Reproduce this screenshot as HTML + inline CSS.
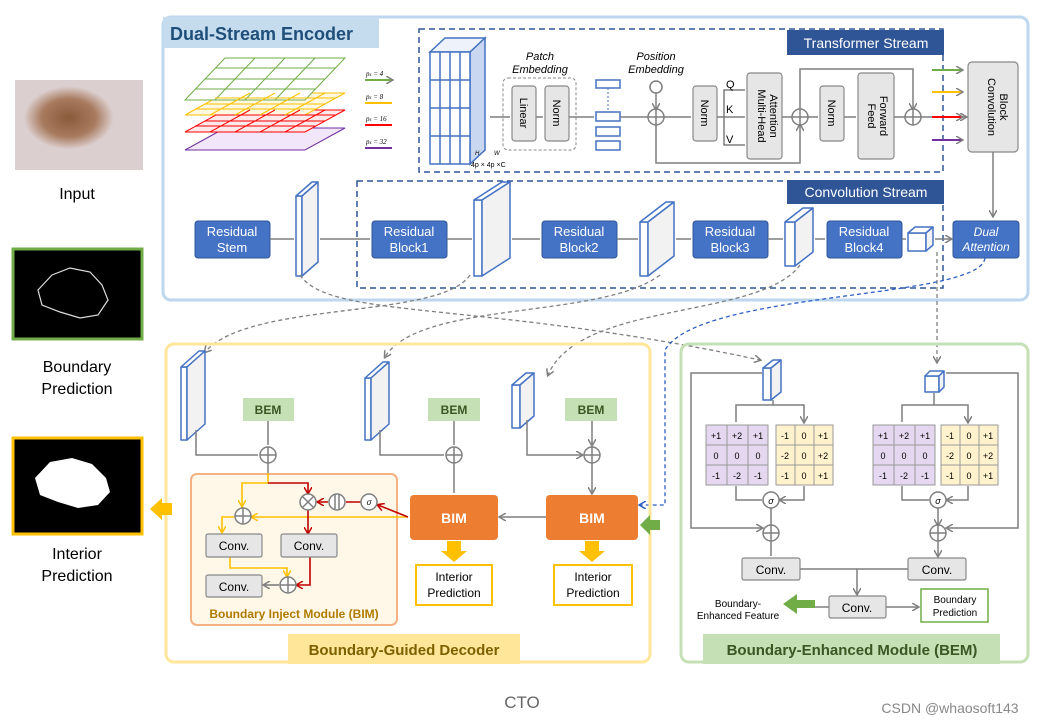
<!DOCTYPE html>
<html><head><meta charset="utf-8"><style>
body{margin:0;background:#fff}
svg{display:block;font-family:"Liberation Sans",sans-serif}
</style></head><body>
<svg width="1045" height="724" viewBox="0 0 1045 724" xmlns="http://www.w3.org/2000/svg">
<defs>
<marker id="ag" markerWidth="8" markerHeight="8" refX="6" refY="4" orient="auto" markerUnits="userSpaceOnUse"><path d="M0,0 L7,4 L0,8" fill="none" stroke="#7f7f7f" stroke-width="1.5"/></marker>
<marker id="ar" markerWidth="8" markerHeight="8" refX="6" refY="4" orient="auto" markerUnits="userSpaceOnUse"><path d="M0,0 L7,4 L0,8" fill="none" stroke="#c00000" stroke-width="1.5"/></marker>
<marker id="ay" markerWidth="8" markerHeight="8" refX="6" refY="4" orient="auto" markerUnits="userSpaceOnUse"><path d="M0,0 L7,4 L0,8" fill="none" stroke="#ffc000" stroke-width="1.5"/></marker>
<marker id="ab" markerWidth="8" markerHeight="8" refX="6" refY="4" orient="auto" markerUnits="userSpaceOnUse"><path d="M0,0 L7,4 L0,8" fill="none" stroke="#2f5fc4" stroke-width="1.5"/></marker>
<radialGradient id="skin" cx="0.42" cy="0.42" r="0.35"><stop offset="0" stop-color="#8a5a3a"/><stop offset="0.6" stop-color="#a87a5e"/><stop offset="1" stop-color="#dccfcf"/></radialGradient>
</defs>

<!-- left panels -->
<rect x="15" y="80" width="128" height="90" fill="#dfd5d6"/>
<rect x="15" y="80" width="128" height="90" fill="url(#skin)"/>
<text x="77" y="199" font-size="16" text-anchor="middle">Input</text>
<rect x="13" y="249" width="129" height="90" fill="#000" stroke="#70ad47" stroke-width="3"/>
<path d="M38,290 L52,275 L70,268 L90,272 L102,285 L108,300 L98,315 L80,318 L60,312 L42,305 Z" fill="none" stroke="#ddd" stroke-width="1.2"/>
<text x="77" y="372" font-size="16" text-anchor="middle">Boundary</text>
<text x="77" y="394" font-size="16" text-anchor="middle">Prediction</text>
<rect x="13" y="438" width="129" height="96" fill="#000" stroke="#ffc000" stroke-width="3"/>
<path d="M35,478 L50,462 L72,458 L92,464 L106,478 L110,492 L98,505 L78,508 L58,502 L40,495 Z" fill="#fff"/>
<text x="77" y="559" font-size="16" text-anchor="middle">Interior</text>
<text x="77" y="581" font-size="16" text-anchor="middle">Prediction</text>

<!-- Encoder -->
<rect x="163" y="17" width="865" height="283" rx="8" fill="#fff" stroke="#bdd7ee" stroke-width="3"/>
<rect x="163" y="17" width="216" height="31" fill="#c5dcef"/>
<text x="170" y="40" font-size="18" font-weight="bold" fill="#1f4e79">Dual-Stream Encoder</text>

<!-- layered grids -->
<g stroke-width="1" fill="none">
<path d="M185,150 L225,128 L345,128 L305,150 Z" fill="#f2e6fa" stroke="#7030a0"/>
<path d="M185,132 L225,110 L345,110 L305,132 Z" fill="#fde9e9" stroke="#ff0000"/>
<path d="M185,115 L225,93 L345,93 L305,115 Z" fill="#fff8e0" stroke="#ffc000"/>
<path d="M185,100 L225,58 L345,58 L305,100 Z" fill="#fff" stroke="#70ad47"/>
<path d="M195,89 L315,89 M205,79 L325,79 M215,68 L335,68 M215,100 L255,58 M245,100 L285,58 M275,100 L315,58" stroke="#70ad47"/>
<path d="M195,126 L315,126 M205,121 L325,121 M215,115 L335,115 M210,132 L250,110 M235,132 L275,110 M260,132 L300,110 M285,132 L325,110" stroke="#ff0000"/>
<path d="M195,109 L315,109 M205,104 L325,104 M215,98 L335,98 M210,115 L250,93 M235,115 L275,93 M260,115 L300,93 M285,115 L325,93" stroke="#ffc000"/>
</g>
<g font-size="7" font-style="italic" font-family="Liberation Serif,serif">
<text x="366" y="76">p<tspan font-size="5">s</tspan> = 4</text><text x="366" y="99">p<tspan font-size="5">s</tspan> = 8</text><text x="366" y="121">p<tspan font-size="5">s</tspan> = 16</text><text x="366" y="144">p<tspan font-size="5">s</tspan> = 32</text>
</g>
<g stroke-width="2">
<path d="M365,80 L392,80" stroke="#70ad47" marker-end="url(#ag)"/>
<path d="M365,103 L392,103" stroke="#ffc000"/>
<path d="M365,125 L392,125" stroke="#ff0000"/>
<path d="M365,148 L392,148" stroke="#7030a0"/>
</g>

<!-- transformer stream -->
<rect x="419" y="29" width="524" height="143" fill="none" stroke="#2f5597" stroke-width="1.5" stroke-dasharray="6,4"/>
<rect x="787" y="30" width="157" height="25" fill="#2f5597"/>
<text x="866" y="48" font-size="14" fill="#fff" text-anchor="middle">Transformer Stream</text>
<!-- tensor -->
<g fill="#dae3f3" stroke="#4472c4" stroke-width="1.5">
<path d="M430,52 L445,38 L485,38 L470,52 Z" fill="#eef3fb"/>
<path d="M470,52 L485,38 L485,150 L470,164 Z" fill="#c9d8f0"/>
<rect x="430" y="52" width="40" height="112" fill="#fff"/>
<path d="M440,52 V164 M450,52 V164 M460,52 V164 M430,80 H470 M430,108 H470 M430,136 H470" fill="none"/>
</g>
<text x="475" y="155" font-size="6" font-style="italic">H</text><text x="494" y="155" font-size="6" font-style="italic">W</text>
<text x="471" y="167" font-size="7">4p × 4p ×C</text>
<text x="540" y="60" font-size="11" font-style="italic" text-anchor="middle">Patch</text>
<text x="540" y="73" font-size="11" font-style="italic" text-anchor="middle">Embedding</text>
<rect x="503" y="78" width="73" height="72" rx="5" fill="none" stroke="#888" stroke-dasharray="3,2"/>
<g fill="#e7e6e6" stroke="#888" stroke-width="1.2">
<rect x="512" y="86" width="24" height="55" rx="3"/><rect x="545" y="86" width="24" height="55" rx="3"/>
<rect x="693" y="86" width="24" height="55" rx="3"/><rect x="820" y="86" width="24" height="55" rx="3"/>
<rect x="747" y="73" width="35" height="86" rx="3"/><rect x="858" y="73" width="36" height="86" rx="3"/>
<rect x="968" y="62" width="50" height="90" rx="4"/>
</g>
<g font-size="11" text-anchor="middle">
<text transform="translate(520,113) rotate(90)">Linear</text>
<text transform="translate(553,113) rotate(90)">Norm</text>
<text transform="translate(701,113) rotate(90)">Norm</text>
<text transform="translate(828,113) rotate(90)">Norm</text>
<text transform="translate(758,116) rotate(90)">Multi-Head</text>
<text transform="translate(770,116) rotate(90)">Attention</text>
<text transform="translate(868,116) rotate(90)">Feed</text>
<text transform="translate(880,116) rotate(90)">Forward</text>
<text transform="translate(988,107) rotate(90)">Convolution</text>
<text transform="translate(1000,107) rotate(90)">Block</text>
</g>
<g fill="#fff" stroke="#4472c4" stroke-width="1.5">
<rect x="596" y="80" width="24" height="8"/><rect x="596" y="112" width="24" height="9"/><rect x="596" y="127" width="24" height="9"/><rect x="596" y="141" width="24" height="9"/>
</g>
<path d="M608,88 V112" stroke="#4472c4" stroke-dasharray="2,2"/>
<text x="656" y="60" font-size="11" font-style="italic" text-anchor="middle">Position</text>
<text x="656" y="73" font-size="11" font-style="italic" text-anchor="middle">Embedding</text>
<g fill="none" stroke="#7f7f7f" stroke-width="1.5">
<circle cx="656" cy="87" r="6"/>
<path d="M490,117 H510 M536,117 H543 M569,117 H594 M620,117 H648 M664,117 H691 M717,117 H724 V90 H745 M724,117 H745 M724,117 V145 H745 M782,117 H792 M808,117 H818 M844,117 H856 M894,117 H905 M921,117 H966" marker-end="url(#ag)"/>
<path d="M656,93 V109" marker-end="url(#ag)"/>
<path d="M656,125 V163 H800 V125" marker-end="url(#ag)"/>
<path d="M800,109 V69 H913 V109" marker-end="url(#ag)"/>
<path d="M993,152 V216" marker-end="url(#ag)"/>
</g>
<g fill="#fff" stroke="#7f7f7f" stroke-width="1.5">
<circle cx="656" cy="117" r="8"/><circle cx="800" cy="117" r="8"/><circle cx="913" cy="117" r="8"/>
<path d="M648,117 H664 M656,109 V125 M792,117 H808 M800,109 V125 M905,117 H921 M913,109 V125" fill="none"/>
</g>
<g font-size="11"><text x="726" y="88">Q</text><text x="726" y="113">K</text><text x="726" y="143">V</text></g>
<g stroke-width="2">
<path d="M932,70 H962" stroke="#70ad47" marker-end="url(#ag)"/>
<path d="M932,92 H962" stroke="#ffc000" marker-end="url(#ag)"/>
<path d="M932,117 H962" stroke="#ff0000" marker-end="url(#ag)"/>
<path d="M932,140 H962" stroke="#7030a0" marker-end="url(#ag)"/>
</g>

<!-- conv stream -->
<rect x="357" y="181" width="586" height="107" fill="none" stroke="#2f5597" stroke-width="1.5" stroke-dasharray="6,4"/>
<rect x="787" y="180" width="157" height="24" fill="#2f5597"/>
<text x="866" y="197" font-size="14" fill="#fff" text-anchor="middle">Convolution Stream</text>
<g fill="#4472c4" stroke="#2f5597" stroke-width="1">
<rect x="195" y="221" width="75" height="37" rx="3"/><rect x="372" y="221" width="75" height="37" rx="3"/>
<rect x="542" y="221" width="75" height="37" rx="3"/><rect x="693" y="221" width="75" height="37" rx="3"/>
<rect x="827" y="221" width="75" height="37" rx="3"/><rect x="953" y="221" width="66" height="37" rx="3"/>
</g>
<g font-size="13" fill="#fff" text-anchor="middle">
<text x="232" y="236">Residual</text><text x="232" y="252">Stem</text>
<text x="409" y="236">Residual</text><text x="409" y="252">Block1</text>
<text x="579" y="236">Residual</text><text x="579" y="252">Block2</text>
<text x="730" y="236">Residual</text><text x="730" y="252">Block3</text>
<text x="864" y="236">Residual</text><text x="864" y="252">Block4</text>
<text x="986" y="236" font-style="italic" font-size="12">Dual</text><text x="986" y="251" font-style="italic" font-size="12">Attention</text>
</g>
<!-- slabs: front rect + top + right side -->
<g stroke="#4472c4" stroke-width="1.5" stroke-linejoin="round">
<path d="M296,196 h6 v80 h-6 Z" fill="#fff"/><path d="M296,196 l16,-14 h6 l-16,14 Z" fill="#fff"/><path d="M302,196 l16,-14 v80 l-16,14 Z" fill="#f2f2f2"/>
<path d="M474,200 h8 v76 h-8 Z" fill="#fff"/><path d="M474,200 l28,-18 h8 l-28,18 Z" fill="#fff"/><path d="M482,200 l28,-18 v76 l-28,18 Z" fill="#f2f2f2"/>
<path d="M640,222 h8 v54 h-8 Z" fill="#fff"/><path d="M640,222 l26,-20 h8 l-26,20 Z" fill="#fff"/><path d="M648,222 l26,-20 v54 l-26,20 Z" fill="#f2f2f2"/>
<path d="M785,222 h10 v44 h-10 Z" fill="#fff"/><path d="M785,222 l18,-14 h10 l-18,14 Z" fill="#fff"/><path d="M795,222 l18,-14 v44 l-18,14 Z" fill="#f2f2f2"/>
<path d="M908,233 h18 v18 h-18 Z" fill="#fff"/><path d="M908,233 l7,-6 h18 l-7,6 Z" fill="#fff"/><path d="M926,233 l7,-6 v18 l-7,6 Z" fill="#f2f2f2"/>
</g>
<g fill="none" stroke="#7f7f7f" stroke-width="1.5">
<path d="M270,239 H294 M320,239 H370 M447,239 H472 M512,239 H540 M617,239 H638 M676,239 H691 M768,239 H783 M815,239 H825 M902,239 H906 M935,239 H951" marker-end="url(#ag)"/>
</g>
<!-- dashed connectors -->
<g fill="none" stroke="#7f7f7f" stroke-width="1.3" stroke-dasharray="4,3">
<path d="M300,275 C330,320 480,300 760,360" marker-end="url(#ag)"/>
<path d="M470,275 C440,320 250,300 205,352" marker-end="url(#ag)"/>
<path d="M660,275 C600,320 420,300 385,357" marker-end="url(#ag)"/>
<path d="M800,265 C760,320 580,300 548,375" marker-end="url(#ag)"/>
<path d="M937,252 V362" marker-end="url(#ag)"/>
</g>
<path d="M985,258 C980,300 700,290 665,350 L665,505 H640" fill="none" stroke="#2f5fc4" stroke-width="1.3" stroke-dasharray="4,3" marker-end="url(#ab)"/>

<!-- decoder -->
<rect x="166" y="344" width="484" height="318" rx="8" fill="none" stroke="#ffe699" stroke-width="3"/>
<rect x="288" y="634" width="232" height="30" fill="#ffe699"/>
<text x="404" y="655" font-size="15" font-weight="bold" fill="#7f6000" text-anchor="middle">Boundary-Guided Decoder</text>
<g stroke="#4472c4" stroke-width="1.5" fill="#fff" stroke-linejoin="round">
<path d="M181,367 h6 v73 h-6 Z"/><path d="M181,367 l18,-16 h6 l-18,16 Z"/><path d="M187,367 l18,-16 v73 l-18,16 Z" fill="#f2f2f2"/>
<path d="M365,378 h6 v62 h-6 Z"/><path d="M365,378 l18,-16 h6 l-18,16 Z"/><path d="M371,378 l18,-16 v62 l-18,16 Z" fill="#f2f2f2"/>
<path d="M512,385 h8 v43 h-8 Z"/><path d="M512,385 l14,-12 h8 l-14,12 Z"/><path d="M520,385 l14,-12 v43 l-14,12 Z" fill="#f2f2f2"/>
</g>
<g fill="#c5e0b4">
<rect x="243" y="398" width="51" height="23"/><rect x="428" y="398" width="52" height="23"/><rect x="565" y="398" width="52" height="23"/>
</g>
<g font-size="12" font-weight="bold" fill="#385723" text-anchor="middle">
<text x="268" y="414">BEM</text><text x="454" y="414">BEM</text><text x="591" y="414">BEM</text>
</g>
<g fill="none" stroke="#7f7f7f" stroke-width="1.5">
<path d="M268,421 V445 M454,421 V445 M592,421 V445" marker-end="url(#ag)"/>
<path d="M196,430 V455 H258 M380,430 V455 H444 M527,420 V455 H582" marker-end="url(#ag)"/>
<path d="M454,463 V493 M592,463 V493" marker-end="url(#ag)"/>
<path d="M546,517 H500" marker-end="url(#ag)"/>
</g>
<g fill="#fff" stroke="#7f7f7f" stroke-width="1.5">
<circle cx="268" cy="455" r="8"/><circle cx="454" cy="455" r="8"/><circle cx="592" cy="455" r="8"/>
<path d="M260,455 H276 M268,447 V463 M446,455 H462 M454,447 V463 M584,455 H600 M592,447 V463" fill="none"/>
</g>
<rect x="410" y="495" width="88" height="45" rx="4" fill="#ed7d31"/>
<rect x="546" y="495" width="92" height="45" rx="4" fill="#ed7d31"/>
<text x="454" y="523" font-size="14" font-weight="bold" fill="#fff" text-anchor="middle">BIM</text>
<text x="592" y="523" font-size="14" font-weight="bold" fill="#fff" text-anchor="middle">BIM</text>
<path d="M447,541 H461 V551 H467 L454,562 L441,551 H447 Z M585,541 H599 V551 H605 L592,562 L579,551 H585 Z" fill="#ffc000"/>
<rect x="416" y="565" width="76" height="40" fill="#fff" stroke="#ffc000" stroke-width="2"/>
<rect x="554" y="565" width="78" height="40" fill="#fff" stroke="#ffc000" stroke-width="2"/>
<g font-size="12" text-anchor="middle"><text x="454" y="581">Interior</text><text x="454" y="597">Prediction</text><text x="593" y="581">Interior</text><text x="593" y="597">Prediction</text></g>
<path d="M660,520 L650,520 L650,515 L640,525 L650,535 L650,530 L660,530 Z" fill="#70ad47"/>
<path d="M172,503 L162,503 L162,498 L150,509 L162,520 L162,515 L172,515 Z" fill="#ffc000"/>

<!-- BIM inner -->
<rect x="191" y="474" width="206" height="151" rx="6" fill="#fff8e8" stroke="#f4b183" stroke-width="2"/>
<text x="294" y="618" font-size="12" font-weight="bold" fill="#b07a00" text-anchor="middle">Boundary Inject Module (BIM)</text>
<path d="M268,463 V473" stroke="#7f7f7f" stroke-width="1.5"/>
<g fill="none" stroke-width="1.6">
<path d="M268,473 V483 H242 V506" stroke="#ffc000" marker-end="url(#ay)"/>
<path d="M408,517 H252" stroke="#ffc000" marker-end="url(#ay)"/>
<path d="M234,517 H222 V532" stroke="#ffc000" marker-end="url(#ay)"/>
<path d="M230,557 V568 H287 V576" stroke="#ffc000" marker-end="url(#ay)"/>
<path d="M268,483 H308 V493" stroke="#c00000" marker-end="url(#ar)"/>
<path d="M408,517 L378,505" stroke="#c00000" marker-end="url(#ar)"/>
<path d="M361,502 H346 M328,502 H318" stroke="#c00000" marker-end="url(#ar)"/>
<path d="M308,510 V533" stroke="#c00000" marker-end="url(#ar)"/>
<path d="M310,557 V585 H297" stroke="#c00000" marker-end="url(#ar)"/>
<path d="M279,585 H264" stroke="#7f7f7f" marker-end="url(#ag)"/>
</g>
<g fill="#fff" stroke="#7f7f7f" stroke-width="1.5">
<circle cx="308" cy="502" r="8"/><path d="M302,496 L314,508 M314,496 L302,508" fill="none"/>
<circle cx="337" cy="502" r="8"/><path d="M335,495 V509 M339,495 V509" fill="none"/>
<circle cx="369" cy="502" r="8"/>
<circle cx="243" cy="516" r="8"/><path d="M235,516 H251 M243,508 V524" fill="none"/>
<circle cx="288" cy="585" r="8"/><path d="M280,585 H296 M288,577 V593" fill="none"/>
</g>
<text x="369" y="505" font-size="8" font-style="italic" text-anchor="middle">σ</text>
<g fill="#e7e6e6" stroke="#888" stroke-width="1.2">
<rect x="206" y="534" width="56" height="23" rx="2"/><rect x="281" y="534" width="56" height="23" rx="2"/><rect x="206" y="575" width="56" height="22" rx="2"/>
</g>
<g font-size="12" text-anchor="middle"><text x="234" y="550">Conv.</text><text x="309" y="550">Conv.</text><text x="234" y="591">Conv.</text></g>

<!-- BEM module -->
<rect x="681" y="344" width="347" height="318" rx="8" fill="none" stroke="#c5e0b4" stroke-width="3"/>
<rect x="703" y="634" width="297" height="30" fill="#c5e0b4"/>
<text x="852" y="655" font-size="15" font-weight="bold" fill="#385723" text-anchor="middle">Boundary-Enhanced Module (BEM)</text>
<g stroke="#4472c4" stroke-width="1.5" fill="#fff" stroke-linejoin="round">
<path d="M763,368 h8 v32 h-8 Z"/><path d="M763,368 l10,-8 h8 l-10,8 Z"/><path d="M771,368 l10,-8 v32 l-10,8 Z" fill="#f2f2f2"/>
<path d="M925,376 h14 v16 h-14 Z"/><path d="M925,376 l5,-5 h14 l-5,5 Z"/><path d="M939,376 l5,-5 v16 l-5,5 Z" fill="#f2f2f2"/>
</g>
<g fill="none" stroke="#7f7f7f" stroke-width="1.5">
<path d="M762,373 H691 V528 H762" marker-end="url(#ag)"/>
<path d="M946,373 H1018 V528 H947" marker-end="url(#ag)"/>
<path d="M773,400 V405 H736 V422 M773,405 H804 V422" marker-end="url(#ag)"/>
<path d="M934,393 V405 H902 V422 M934,405 H968 V422" marker-end="url(#ag)"/>
<path d="M736,486 V500 H762 M804,486 V500 H780" marker-end="url(#ag)"/>
<path d="M902,486 V500 H929 M968,486 V500 H947" marker-end="url(#ag)"/>
<path d="M771,508 V525 M938,508 V525" marker-end="url(#ag)"/>
<path d="M771,541 V556 M938,541 V556" marker-end="url(#ag)"/>
<path d="M800,569 H908 M857,569 V594" marker-end="url(#ag)"/>
<path d="M886,607 H918" marker-end="url(#ag)"/>
<path d="M829,607 H815"/>
</g>
<g stroke="#999" stroke-width="1">
<g fill="#e4d7ef"><rect x="706" y="425" width="21" height="20"/><rect x="727" y="425" width="21" height="20"/><rect x="748" y="425" width="20" height="20"/><rect x="706" y="445" width="21" height="20"/><rect x="727" y="445" width="21" height="20"/><rect x="748" y="445" width="20" height="20"/><rect x="706" y="465" width="21" height="20"/><rect x="727" y="465" width="21" height="20"/><rect x="748" y="465" width="20" height="20"/>
<rect x="873" y="425" width="21" height="20"/><rect x="894" y="425" width="21" height="20"/><rect x="915" y="425" width="20" height="20"/><rect x="873" y="445" width="21" height="20"/><rect x="894" y="445" width="21" height="20"/><rect x="915" y="445" width="20" height="20"/><rect x="873" y="465" width="21" height="20"/><rect x="894" y="465" width="21" height="20"/><rect x="915" y="465" width="20" height="20"/></g>
<g fill="#fff2cc"><rect x="776" y="425" width="19" height="20"/><rect x="795" y="425" width="19" height="20"/><rect x="814" y="425" width="19" height="20"/><rect x="776" y="445" width="19" height="20"/><rect x="795" y="445" width="19" height="20"/><rect x="814" y="445" width="19" height="20"/><rect x="776" y="465" width="19" height="20"/><rect x="795" y="465" width="19" height="20"/><rect x="814" y="465" width="19" height="20"/>
<rect x="941" y="425" width="19" height="20"/><rect x="960" y="425" width="19" height="20"/><rect x="979" y="425" width="19" height="20"/><rect x="941" y="445" width="19" height="20"/><rect x="960" y="445" width="19" height="20"/><rect x="979" y="445" width="19" height="20"/><rect x="941" y="465" width="19" height="20"/><rect x="960" y="465" width="19" height="20"/><rect x="979" y="465" width="19" height="20"/></g>
</g>
<g font-size="9" text-anchor="middle">
<text x="716" y="439">+1</text><text x="737" y="439">+2</text><text x="758" y="439">+1</text><text x="716" y="459">0</text><text x="737" y="459">0</text><text x="758" y="459">0</text><text x="716" y="479">-1</text><text x="737" y="479">-2</text><text x="758" y="479">-1</text>
<text x="785" y="439">-1</text><text x="804" y="439">0</text><text x="823" y="439">+1</text><text x="785" y="459">-2</text><text x="804" y="459">0</text><text x="823" y="459">+2</text><text x="785" y="479">-1</text><text x="804" y="479">0</text><text x="823" y="479">+1</text>
<text x="883" y="439">+1</text><text x="904" y="439">+2</text><text x="925" y="439">+1</text><text x="883" y="459">0</text><text x="904" y="459">0</text><text x="925" y="459">0</text><text x="883" y="479">-1</text><text x="904" y="479">-2</text><text x="925" y="479">-1</text>
<text x="950" y="439">-1</text><text x="969" y="439">0</text><text x="988" y="439">+1</text><text x="950" y="459">-2</text><text x="969" y="459">0</text><text x="988" y="459">+2</text><text x="950" y="479">-1</text><text x="969" y="479">0</text><text x="988" y="479">+1</text>
</g>
<g fill="#fff" stroke="#7f7f7f" stroke-width="1.5">
<circle cx="771" cy="500" r="8"/><circle cx="938" cy="500" r="8"/>
<circle cx="771" cy="533" r="8"/><circle cx="938" cy="533" r="8"/>
<path d="M763,533 H779 M771,525 V541 M930,533 H946 M938,525 V541" fill="none"/>
</g>
<text x="771" y="504" font-size="9" font-style="italic" text-anchor="middle">σ</text>
<text x="938" y="504" font-size="9" font-style="italic" text-anchor="middle">σ</text>
<g fill="#e7e6e6" stroke="#888" stroke-width="1.2">
<rect x="742" y="558" width="58" height="22" rx="2"/><rect x="908" y="558" width="58" height="22" rx="2"/><rect x="829" y="596" width="57" height="22" rx="2"/>
</g>
<g font-size="12" text-anchor="middle"><text x="771" y="574">Conv.</text><text x="937" y="574">Conv.</text><text x="857" y="612">Conv.</text></g>
<rect x="921" y="589" width="67" height="33" fill="#fff" stroke="#70ad47" stroke-width="1.5"/>
<g font-size="10" text-anchor="middle"><text x="955" y="603">Boundary</text><text x="955" y="616">Prediction</text>
<text x="738" y="607">Boundary-</text><text x="738" y="619">Enhanced Feature</text></g>
<path d="M815,600 L797,600 L797,594 L783,604 L797,614 L797,608 L815,608 Z" fill="#70ad47"/>

<text x="522" y="708" font-size="17" fill="#666" text-anchor="middle">CTO</text>
<text x="950" y="713" font-size="14" fill="#888" text-anchor="middle">CSDN @whaosoft143</text>
</svg>
</body></html>
